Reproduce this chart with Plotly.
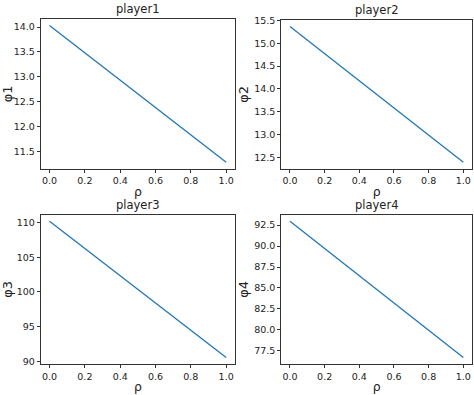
import plotly.graph_objects as go
from plotly.subplots import make_subplots

rho = [0.0, 1.0]
phi1 = [14.03, 11.28]
phi2 = [15.37, 12.39]
phi3 = [110.2, 90.55]
phi4 = [92.95, 76.72]
titles = ["player1", "player2", "player3", "player4"]
ylabels = ["φ1", "φ2", "φ3", "φ4"]
xticks = [0.0, 0.2, 0.4, 0.6, 0.8, 1.0]
yticks = [
    [11.5, 12.0, 12.5, 13.0, 13.5, 14.0],
    [12.5, 13.0, 13.5, 14.0, 14.5, 15.0, 15.5],
    [90, 95, 100, 105, 110],
    [77.5, 80.0, 82.5, 85.0, 87.5, 90.0, 92.5],
]
yfmt = [".1f", ".1f", "d", ".1f"]
series = [phi1, phi2, phi3, phi4]

W, H = 474, 395
fig = make_subplots(rows=2, cols=2)

# pixel boxes: (left, right, top, bottom)
boxes = [(40.7, 235, 14, 167), (281.3, 472, 15, 167), (40.7, 235, 213.3, 365.7), (281.3, 472, 213.3, 365.7)]

font = "DejaVu Sans"
for i, ys in enumerate(series):
    r, c = i // 2 + 1, i % 2 + 1
    fig.add_trace(go.Scatter(x=rho, y=ys, mode="lines", line=dict(color="#1f77b4", width=1.3),
                             showlegend=False), row=r, col=c)
    lo, hi = min(ys), max(ys)
    m = (hi - lo) * 0.05
    l, rr, t, b = boxes[i]
    xa = "xaxis" if i == 0 else f"xaxis{i+1}"
    ya = "yaxis" if i == 0 else f"yaxis{i+1}"
    fig.layout[xa].update(domain=[l / W, rr / W], range=[-0.05, 1.05], tickvals=xticks,
                          tickformat=".1f", showgrid=False, zeroline=False, showline=True,
                          linecolor="#333", linewidth=1, mirror=True, ticks="outside",
                          ticklen=3, tickcolor="#333", tickfont=dict(size=9.5, color="#222", family=font),
                          title=dict(text="ρ", font=dict(size=12.5, color="#222", family=font), standoff=1))
    fig.layout[ya].update(domain=[1 - b / H, 1 - t / H], range=[lo - m, hi + m], tickvals=yticks[i],
                          tickformat=yfmt[i], showgrid=False, zeroline=False, showline=True,
                          linecolor="#333", linewidth=1, mirror=True, ticks="outside",
                          ticklen=3, tickcolor="#333", tickfont=dict(size=9.5, color="#222", family=font),
                          title=dict(text=ylabels[i], font=dict(size=13, color="#222", family=font), standoff=2))
    fig.add_annotation(text=titles[i], xref="paper", yref="paper", x=(l + rr) / 2 / W,
                       y=1 - (t - 0.5) / H, xanchor="center", yanchor="bottom", showarrow=False,
                       font=dict(size=11.5, color="#222", family=font))

fig.update_layout(width=W, height=H, margin=dict(l=0, r=0, t=0, b=0),
                  plot_bgcolor="white", paper_bgcolor="white")
fig.write_html("out.html", post_script="document.body.style.margin='0';",
               config={"displayModeBar": False})
